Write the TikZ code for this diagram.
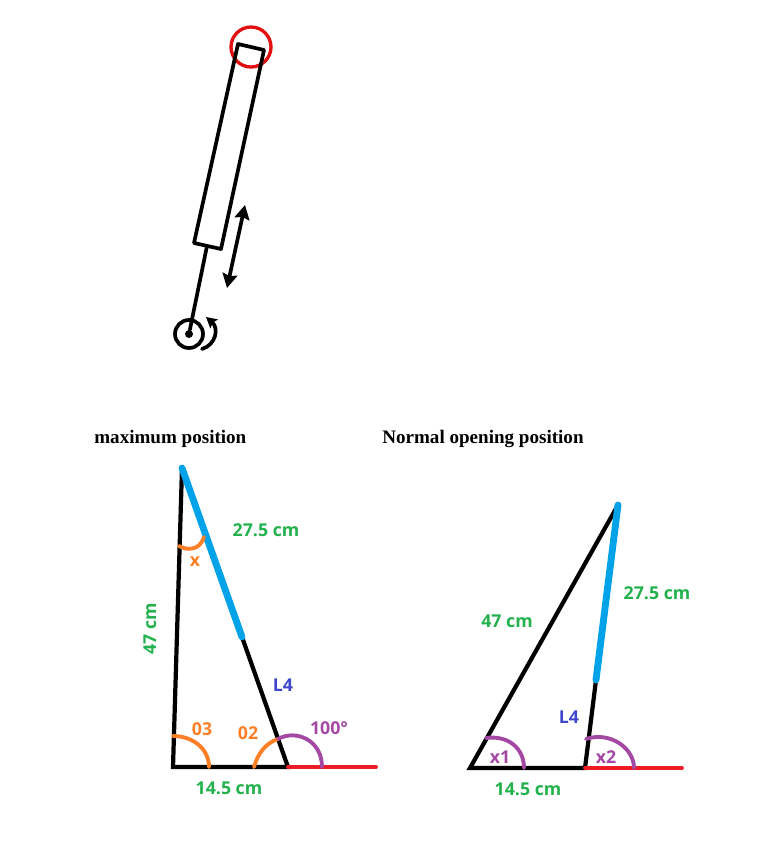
\documentclass[tikz,border=0pt]{standalone}
\usepackage{fontspec}
\usetikzlibrary{arrows.meta}
\setmainfont{Open Sans}
\newfontfamily\titlefont{Liberation Serif}
\definecolor{lengthgreen}{HTML}{22B14C}
\definecolor{angleorange}{HTML}{FF7F27}
\definecolor{anglepurple}{HTML}{A349A4}
\definecolor{barblue}{HTML}{00A2E8}
\definecolor{labelblue}{HTML}{3F48CC}
\definecolor{basered}{HTML}{ED1C24}
\definecolor{mountred}{HTML}{E01010}

\begin{document}
\begin{tikzpicture}[x=0.02cm, y=-0.02cm, >={Stealth[length=8pt, width=8.5pt, inset=1pt]},
	every label text/.style={font=\bfseries\fontsize{10.1}{12}\selectfont, inner sep=0pt},
	length text/.style={every label text, text=lengthgreen},
	orange text/.style={every label text, text=angleorange},
	purple text/.style={every label text, text=anglepurple},
	blue text/.style={every label text, text=labelblue},
	title text/.style={font=\titlefont\bfseries\fontsize{10.85}{13}\selectfont, inner sep=0pt, anchor=base west},
	piston line/.style={draw=black, line width=2.1pt, line cap=round, line join=round},
	side/.style={draw=black, line width=2.4pt, line cap=round},
	bar/.style={draw=barblue, line width=3.9pt, line cap=round},
	base/.style={draw=basered, line width=2.2pt, line cap=round},
	orange arc/.style={draw=angleorange, line width=2.2pt, line cap=round},
	purple arc/.style={draw=anglepurple, line width=2.2pt, line cap=round}]
	
	\useasboundingbox (0,0) rectangle (784,846);
	
	% piston
	\coordinate (cyl-1) at (238,44);
	\coordinate (cyl-2) at (264,50);
	\coordinate (cyl-3) at (221,249);
	\coordinate (cyl-4) at (194,243);
	\coordinate (rod-top) at (207,246);
	\coordinate (slide-top) at (245,205);
	\coordinate (slide-bottom) at (227,288);
	\coordinate (turn-start) at (202,349);
	\coordinate (turn-end) at (206,317);
	\node [circle, draw=mountred, line width=1.9pt, minimum size=40*0.02cm, inner sep=0pt] (mount) at (251,47) {};
	\node [circle, draw=black, line width=2.1pt, minimum size=28*0.02cm, inner sep=0pt] (eye) at (189,334) {};
	\node [circle, fill=black, minimum size=8*0.02cm, inner sep=0pt] (pin) at (189,334) {};
	
	\draw [piston line] (cyl-1) -- (cyl-2) -- (cyl-3) -- (cyl-4) -- cycle;
	\draw [piston line] (rod-top) -- (pin);
	\draw [<->, piston line] (slide-top) -- (slide-bottom);
	\draw [-{Stealth[length=6pt, width=6.5pt, inset=1pt]}, piston line] (turn-start) .. controls (216,345) and (219,328) .. (turn-end);
	
	% titles
	\node [title text] (title-max) at (94,443) {maximum position};
	\node [title text] (title-normal) at (382,443) {Normal opening position};
	
	% maximum position
	\coordinate (max-a) at (173,767);
	\coordinate (max-b) at (288,767);
	\coordinate (max-c) at (376,767);
	\coordinate (max-top) at (182,468);
	\coordinate (max-joint) at (242,637);
	
	\draw [side] (max-top) -- (max-a) -- (max-b) -- (max-joint);
	\draw [base] (max-b) -- (max-c);
	\draw [bar] (max-top) -- (max-joint);
	
	\coordinate (max-03a) at (173,736);
	\coordinate (max-03b) at (209,767);
	\coordinate (max-02a) at (254,767);
	\coordinate (max-02b) at (278,739);
	\coordinate (max-100) at (322,767);
	\coordinate (max-xa) at (179,546);
	\coordinate (max-xb) at (204,537);
	
	\draw [orange arc] (max-03a) .. controls (193,736) and (209,749) .. (max-03b);
	\draw [orange arc] (max-02a) .. controls (258,753) and (266,743) .. (max-02b);
	\draw [purple arc] (max-02b) .. controls (296,729) and (322,740) .. (max-100);
	\draw [orange arc] (max-xa) .. controls (188,551) and (200,550) .. (max-xb);
	
	\node [length text] (max-bar-len) at (266,530) {27.5 cm};
	\node [length text, rotate=90] (max-side-len) at (150,629) {47 cm};
	\node [length text] (max-base-len) at (229,788) {14.5 cm};
	\node [blue text] (max-l4) at (283,685) {L4};
	\node [orange text] (max-x) at (195,562) {x};
	\node [orange text] (max-03) at (202,729) {03};
	\node [orange text] (max-02) at (248,733) {02};
	\node [purple text] (max-angle) at (329,728) {100°};
	
	% normal opening position
	\coordinate (nor-a) at (470,768);
	\coordinate (nor-b) at (585,768);
	\coordinate (nor-c) at (682,768);
	\coordinate (nor-top) at (618,505);
	\coordinate (nor-joint) at (596,680);
	
	\draw [side] (nor-top) -- (nor-a) -- (nor-b) -- (nor-joint);
	\draw [base] (nor-b) -- (nor-c);
	\draw [bar] (nor-top) -- (nor-joint);
	
	\coordinate (nor-x1a) at (486,738);
	\coordinate (nor-x1b) at (524,768);
	\coordinate (nor-x2a) at (586,739);
	\coordinate (nor-x2b) at (634,768);
	
	\draw [purple arc] (nor-x1a) .. controls (508,735) and (524,748) .. (nor-x1b);
	\draw [purple arc] (nor-x2a) .. controls (610,731) and (634,748) .. (nor-x2b);
	
	\node [length text] (nor-side-len) at (507,621) {47 cm};
	\node [length text] (nor-bar-len) at (657,593) {27.5 cm};
	\node [length text] (nor-base-len) at (528,789) {14.5 cm};
	\node [blue text] (nor-l4) at (569,717) {L4};
	\node [purple text] (nor-x1) at (500,757) {x1};
	\node [purple text] (nor-x2) at (606,757) {x2};
	
\end{tikzpicture}
\end{document}
